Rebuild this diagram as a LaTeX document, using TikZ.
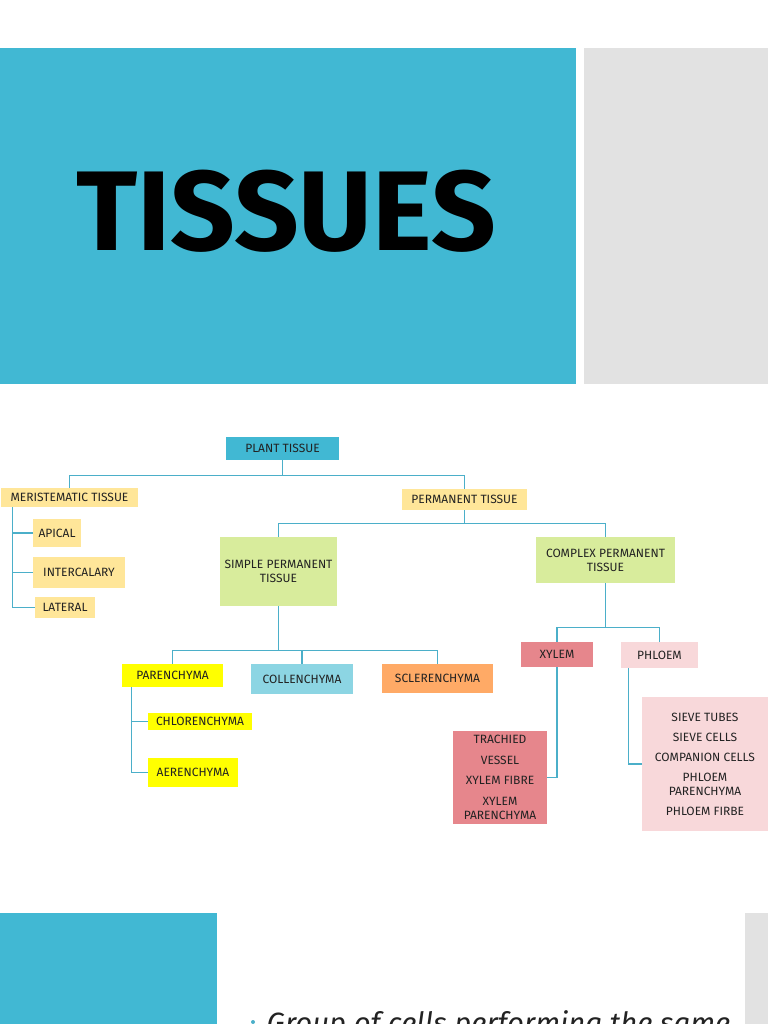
\documentclass[tikz,border=0pt]{standalone}
\usepackage{fontspec}
\setmainfont{Fira Sans}
\definecolor{bleu}{HTML}{41B8D3}
\definecolor{gris}{HTML}{E2E2E2}
\definecolor{sable}{HTML}{FFE699}
\definecolor{vert}{HTML}{D8EC9C}
\definecolor{jaune}{HTML}{FFFF00}
\definecolor{ciel}{HTML}{8CD5E3}
\definecolor{orange}{HTML}{FFAA66}
\definecolor{rouge}{HTML}{E6868C}
\definecolor{rose}{HTML}{F8D8DA}
\definecolor{trait}{HTML}{4BAFC9}
\definecolor{encre}{HTML}{222222}
\begin{document}
\begin{tikzpicture}[x=0.75pt,y=-0.75pt,
  boite/.style={inner sep=0pt, align=center, text=encre, font=\fontsize{9}{10.5}\selectfont},
  lien/.style={draw=trait, line width=1pt}]
  \useasboundingbox (0,0) rectangle (768,1024);
  \clip (0,0) rectangle (768,1024);

  % Bandeau du titre
  \fill[bleu] (0,48) rectangle (576,384);
  \fill[gris] (584,48) rectangle (768,384);
  \node[anchor=base, font=\fontsize{85}{90}\selectfont\bfseries] (titre) at (286,250) {TISSUES};

  % Racine
  \node[boite, fill=bleu, minimum width=84.75pt, minimum height=17.25pt] (plant) at (282.5,448.5) {PLANT TISSUE};

  % Meristematique
  \node[boite, fill=sable, minimum width=102.75pt, minimum height=14.25pt] (meri) at (69.5,497.5) {MERISTEMATIC TISSUE};
  \node[boite, fill=sable, minimum width=36pt, minimum height=21pt] (apical) at (57,533) {APICAL};
  \node[boite, fill=sable, minimum width=69pt, minimum height=23.25pt] (inter) at (79,572.5) {INTERCALARY};
  \node[boite, fill=sable, minimum width=45pt, minimum height=15.75pt] (lateral) at (65,607.5) {LATERAL};

  % Permanent
  \node[boite, fill=sable, minimum width=93.75pt, minimum height=15.75pt] (perm) at (464.5,499.5) {PERMANENT TISSUE};
  \node[boite, fill=vert, minimum width=87.75pt, minimum height=51.75pt] (simple) at (278.5,571.5) {SIMPLE PERMANENT\\TISSUE};
  \node[boite, fill=vert, minimum width=104.25pt, minimum height=34.5pt] (complex) at (605.5,560) {COMPLEX PERMANENT\\TISSUE};

  % Tissus simples
  \node[boite, fill=jaune, minimum width=75.75pt, minimum height=17.25pt] (paren) at (172.5,675.5) {PARENCHYMA};
  \node[boite, fill=ciel, minimum width=76.5pt, minimum height=22.5pt] (collen) at (302,679) {COLLENCHYMA};
  \node[boite, fill=orange, minimum width=83.25pt, minimum height=21.75pt] (scler) at (437.5,678.5) {SCLERENCHYMA};
  \node[boite, fill=jaune, minimum width=78pt, minimum height=12.75pt] (chlor) at (200,721.5) {CHLORENCHYMA};
  \node[boite, fill=jaune, minimum width=67.5pt, minimum height=21.75pt] (aer) at (193,772.5) {AERENCHYMA};

  % Tissus complexes
  \node[boite, fill=rouge, minimum width=54pt, minimum height=18.75pt] (xylem) at (557,654.5) {XYLEM};
  \node[boite, fill=rose, minimum width=57.75pt, minimum height=19.5pt] (phloem) at (659.5,655) {PHLOEM};
  \node[boite, fill=rouge, minimum width=70.5pt, minimum height=69.75pt] (xylist) at (500,777.5)
    {TRACHIED\\[5pt]VESSEL\\[5pt]XYLEM FIBRE\\[5pt]XYLEM\\PARENCHYMA};
  \node[boite, fill=rose, minimum width=94.5pt, minimum height=100.5pt] (phlist) at (705,764)
    {SIEVE TUBES\\[4.5pt]SIEVE CELLS\\[4.5pt]COMPANION CELLS\\[4.5pt]PHLOEM\\PARENCHYMA\\[4.5pt]PHLOEM FIRBE};

  % Liens
  \draw[lien] (plant.south) -- ++(0,15) -| (meri.north);
  \draw[lien] (plant.south) -- ++(0,15) -| (perm.north);
  \draw[lien] ([xshift=9pt]meri.south west) |- (apical.west);
  \draw[lien] ([xshift=9pt]meri.south west) |- (inter.west);
  \draw[lien] ([xshift=9pt]meri.south west) |- (lateral.west);
  \draw[lien] (perm.south) -- ++(0,13) -| (simple.north);
  \draw[lien] (perm.south) -- ++(0,13) -| (complex.north);
  \draw[lien] (simple.south) -- ++(0,44) -| (paren.north);
  \draw[lien] (simple.south) -- ++(0,44) -| (collen.north);
  \draw[lien] (simple.south) -- ++(0,44) -| (scler.north);
  \draw[lien] ([xshift=7.5pt]paren.south west) |- (chlor.west);
  \draw[lien] ([xshift=7.5pt]paren.south west) |- (aer.west);
  \draw[lien] (complex.south) -- ++(0,44) -| (xylem.north);
  \draw[lien] (complex.south) -- ++(0,44) -| (phloem.north);
  \draw[lien] (xylem.south) |- (xylist.east);
  \draw[lien] ([xshift=6pt]phloem.south west) |- (phlist.west);

  % Bas de page
  \fill[bleu] (0,913) rectangle (217,1024);
  \fill[gris] (745,913) rectangle (768,1024);
  \fill[trait] (253,1022) circle (1.5pt);
  \node[anchor=base west, text=encre, font=\fontsize{22}{26}\selectfont\itshape] (groupe) at (262,1033) {Group of cells performing the same};
\end{tikzpicture}
\end{document}
